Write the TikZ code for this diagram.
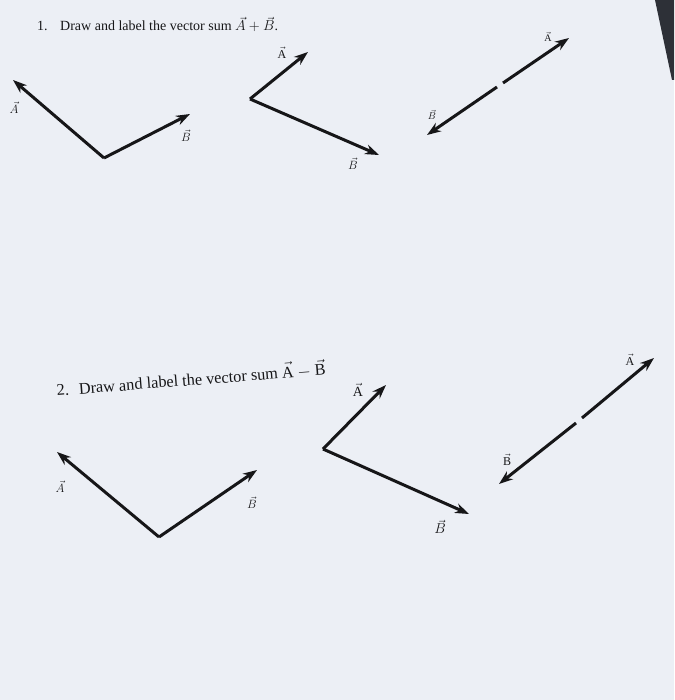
\documentclass[tikz,border=0pt]{standalone}
\usepackage{fontspec}
\setmainfont{Liberation Serif}
\usetikzlibrary{arrows.meta}
\definecolor{paper}{RGB}{236,239,245}
\definecolor{ink}{RGB}{22,22,24}
\definecolor{dark}{RGB}{45,48,55}
\tikzset{
  vecarrow/.style={draw=ink, line width=3pt, -{Stealth[length=14pt,width=10pt]}},
  veclabel/.style={text=ink, font=\fontsize{12}{14}\selectfont, inner sep=0pt},
  title/.style={text=ink, inner sep=0pt, anchor=base west}
}
\begin{document}
\begin{tikzpicture}[x=1pt,y=-1pt]
\useasboundingbox (0,0) rectangle (674,700);
\fill[paper] (0,0) rectangle (674,700);
\fill[dark] (655,0) -- (674,0) -- (674,80) -- (672,80) -- cycle;

% Titles
\node[title, font=\fontsize{14}{16}\selectfont] (n1) at (37,31) {1.};
\node[title, font=\fontsize{14}{16}\selectfont] (t1) at (60,31) {Draw and label the vector sum $\vec{A}+\vec{B}$.};
\node[title, font=\fontsize{16.3}{19}\selectfont, rotate=4.5] (t2) at (57,396) {2.\hspace{10pt}Draw and label the vector sum $\vec{\mathrm{A}}-\vec{\mathrm{B}}$};

% Problem 1, left
\coordinate (v1) at (104,158);
\coordinate (a1) at (13,80);
\coordinate (b1) at (190,114);
\draw[vecarrow] (v1) -- (a1);
\draw[vecarrow] (v1) -- (b1);
\node[veclabel] (la1) at (14,108) {$\vec{A}$};
\node[veclabel] (lb1) at (186,136) {$\vec{B}$};

% Problem 1, middle
\coordinate (v2) at (250,99);
\coordinate (a2) at (308,52);
\coordinate (b2) at (379,155);
\draw[vecarrow] (v2) -- (a2);
\draw[vecarrow] (v2) -- (b2);
\node[veclabel] (la2) at (282,53) {$\vec{\mathrm{A}}$};
\node[veclabel] (lb2) at (353,164) {$\vec{B}$};

% Problem 1, right
\coordinate (g3a) at (503,83);
\coordinate (g3b) at (497,87);
\coordinate (a3) at (569,38);
\coordinate (b3) at (427,135);
\draw[vecarrow] (g3a) -- (a3);
\draw[vecarrow] (g3b) -- (b3);
\node[veclabel, font=\fontsize{10}{12}\selectfont] (la3) at (548,37) {$\vec{\mathrm{A}}$};
\node[veclabel, font=\fontsize{10}{12}\selectfont] (lb3) at (432,115) {$\vec{B}$};

% Problem 2, left
\coordinate (v4) at (159,537);
\coordinate (a4) at (57,452);
\coordinate (b4) at (257,470);
\draw[vecarrow] (v4) -- (a4);
\draw[vecarrow] (v4) -- (b4);
\node[veclabel] (la4) at (60,487) {$\vec{A}$};
\node[veclabel] (lb4) at (252,503) {$\vec{B}$};

% Problem 2, middle
\coordinate (v5) at (323,449);
\coordinate (a5) at (386,385);
\coordinate (b5) at (469,514);
\draw[vecarrow] (v5) -- (a5);
\draw[vecarrow] (v5) -- (b5);
\node[veclabel, font=\fontsize{14}{16}\selectfont] (la5) at (358,390) {$\vec{\mathrm{A}}$};
\node[veclabel, font=\fontsize{14}{16}\selectfont] (lb5) at (440,527) {$\vec{B}$};

% Problem 2, right
\coordinate (g6a) at (582,418);
\coordinate (g6b) at (576,423);
\coordinate (a6) at (654,358);
\coordinate (b6) at (499,484);
\draw[vecarrow] (g6a) -- (a6);
\draw[vecarrow] (g6b) -- (b6);
\node[veclabel] (la6) at (630,360) {$\vec{\mathrm{A}}$};
\node[veclabel] (lb6) at (507,460) {$\vec{\mathrm{B}}$};
\end{tikzpicture}
\end{document}
